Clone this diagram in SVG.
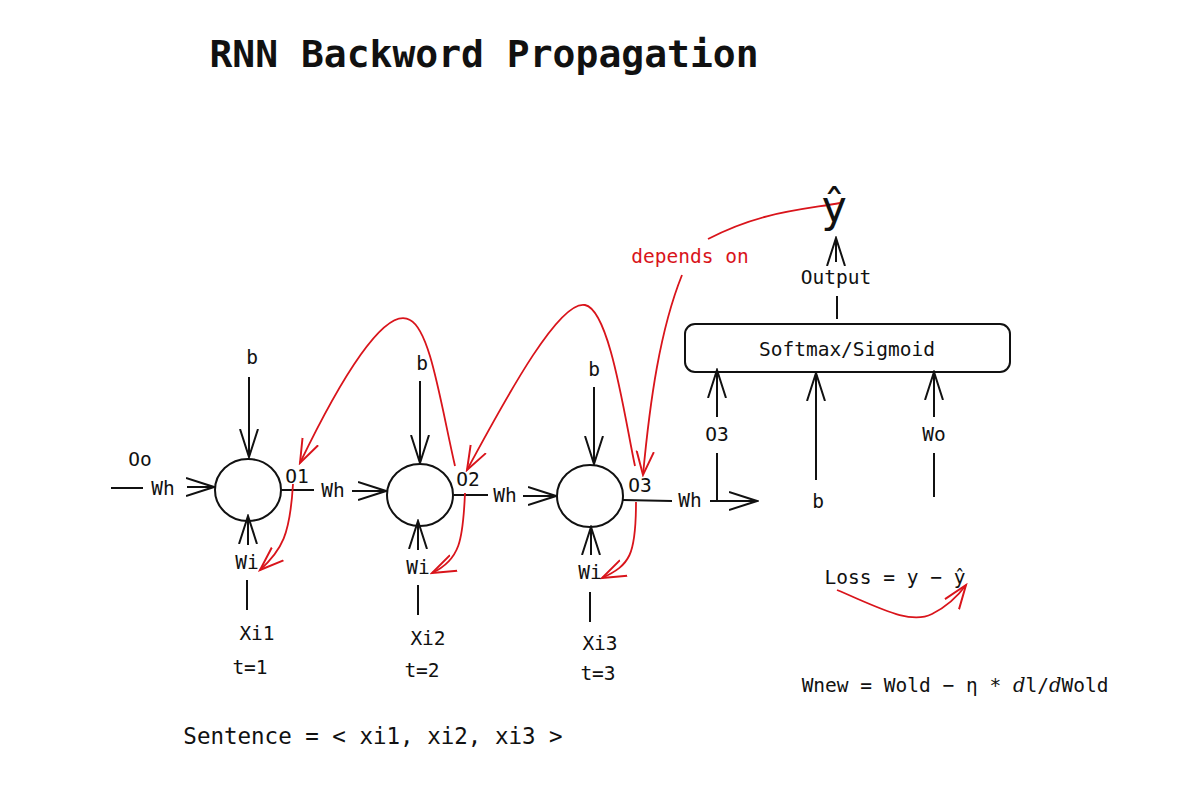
<svg xmlns="http://www.w3.org/2000/svg" width="1200" height="797" viewBox="0 0 1200 797">
<style>
text{font-family:"DejaVu Sans Mono","Liberation Mono",monospace;font-size:19.5px;fill:#111;text-anchor:middle}
.k{stroke:#111;stroke-width:2;fill:none}
.r{stroke:#d9141b;stroke-width:1.8;fill:none}
.ka{marker-end:url(#ak)}
.ra{marker-end:url(#ar)}
</style>
<defs>
<marker id="ak" markerUnits="userSpaceOnUse" markerWidth="30" markerHeight="24" refX="28" refY="11" viewBox="0 0 30 22" orient="auto"><path d="M0,2 L28,11 L0,20" fill="none" stroke="#111" stroke-width="2"/></marker>
<marker id="ar" markerUnits="userSpaceOnUse" markerWidth="26" markerHeight="22" refX="22" refY="10" viewBox="0 0 24 20" orient="auto"><path d="M0,2 L22,10 L0,18" fill="none" stroke="#d9141b" stroke-width="1.8"/></marker>
</defs>
<text x="484" y="67" style="font-size:38px;font-weight:bold">RNN Backword Propagation</text>
<g id="node1"><ellipse cx="248" cy="490" rx="33" ry="31" class="k"/></g>
<g id="node2"><ellipse cx="420" cy="495" rx="33" ry="31" class="k"/></g>
<g id="node3"><ellipse cx="590" cy="496" rx="33" ry="31" class="k"/></g>
<g id="softmax"><rect x="685" y="324" width="325" height="48" rx="10" class="k"/><text x="847" y="356">Softmax/Sigmoid</text></g>
<g id="connectors">
<path class="k ka" d="M249,377 V457"/><path class="k ka" d="M420,381 V463"/><path class="k ka" d="M594,387 V464"/>
<path class="k" d="M111,488 H143"/><path class="k ka" d="M187,487 H214"/>
<path class="k" d="M281,490 H314"/><path class="k ka" d="M352,491 H386"/>
<path class="k" d="M454,495 H488"/><path class="k ka" d="M523,496 H556"/>
<path class="k" d="M623,500 L672,501"/><path class="k ka" d="M710,501 H757"/>
<path class="k ka" d="M248,545 V516"/><path class="k ka" d="M418,550 V521"/><path class="k ka" d="M591,555 V527"/>
<path class="k" d="M247,580 V610"/><path class="k" d="M418,585 V615"/><path class="k" d="M590,592 V622"/>
<path class="k ka" d="M717,417 V370"/><path class="k" d="M717,453 V500"/>
<path class="k ka" d="M816,480 V373"/>
<path class="k ka" d="M934,417 V372"/><path class="k" d="M934,453 V497"/>
<path class="k" d="M837,296 V319"/><path class="k ka" d="M836,262 V238"/>
<path class="r ra" d="M455,466 C440,400 430,330 410,320 C385,305 340,380 300,463"/>
<path class="r ra" d="M635,466 C625,420 610,310 585,305 C560,300 510,390 467,470"/>
<path class="r ra" d="M682,275 C660,330 650,400 643,475"/>
<path class="r" d="M708,239 C760,212 800,210 840,203"/>
<path class="r ra" d="M293,484 C290,535 282,550 260,570"/>
<path class="r ra" d="M465,493 C463,540 460,560 432,573"/>
<path class="r ra" d="M636,502 C636,555 630,565 602,578"/>
<path class="r ra" d="M837,590 C880,608 910,625 932,614 C948,606 958,596 966,585"/>
</g>
<g id="labels">
<text x="252" y="364">b</text><text x="422" y="370">b</text><text x="594" y="376">b</text>
<text x="140" y="466">Oo</text>
<text x="163" y="495">Wh</text><text x="333" y="497">Wh</text><text x="505" y="502">Wh</text><text x="690" y="507">Wh</text>
<text x="297" y="483">O1</text><text x="468" y="486">O2</text><text x="640" y="492">O3</text>
<text x="247" y="569">Wi</text><text x="418" y="574">Wi</text><text x="590" y="579">Wi</text>
<text x="257" y="640">Xi1</text><text x="428" y="645">Xi2</text><text x="600" y="650">Xi3</text>
<text x="250" y="674">t=1</text><text x="422" y="677">t=2</text><text x="598" y="680">t=3</text>
<text x="717" y="441">O3</text><text x="818" y="508">b</text><text x="934" y="441">Wo</text>
<text x="836" y="284">Output</text>
<text x="834" y="222" style="font-size:44px">ŷ</text>
<text x="690" y="263" style="fill:#d9141b">depends on</text>
<text x="895" y="584">Loss = y − ŷ</text>
<text x="955" y="692">Wnew = Wold − η * <tspan font-style="italic" font-family="DejaVu Serif">d</tspan>l/<tspan font-style="italic" font-family="DejaVu Serif">d</tspan>Wold</text>
<text x="373" y="744" style="font-size:22.5px">Sentence = &lt; xi1, xi2, xi3 &gt;</text>
</g>
</svg>
